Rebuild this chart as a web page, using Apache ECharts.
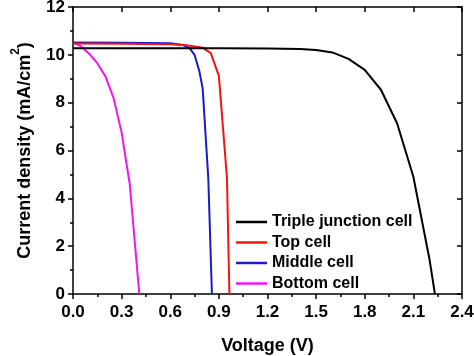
<!DOCTYPE html>
<html>
<head>
<meta charset="utf-8">
<script src="https://cdn.jsdelivr.net/npm/echarts@6/dist/echarts.min.js"></script>
<style>html,body{margin:0;padding:0;background:#fff}#c{width:474px;height:356px}</style>
</head>
<body>
<div id="c"></div>
<script>
// Series names
const seriesNames = ['Triple junction cell', 'Top cell', 'Middle cell', 'Bottom cell'];
// Voltage (V) / current density (mA/cm2)
const voltTriple = [0, 0.3, 0.6, 0.9, 1.2, 1.4, 1.5, 1.6, 1.7, 1.8, 1.9, 2.0, 2.1, 2.2, 2.233];
const currTriple = [10.28, 10.28, 10.28, 10.28, 10.27, 10.24, 10.2, 10.1, 9.83, 9.37, 8.54, 7.13, 4.9, 1.43, 0];
const voltTop = [0, 0.3, 0.6, 0.7, 0.8, 0.85, 0.9, 0.95, 0.965];
const currTop = [10.47, 10.46, 10.44, 10.4, 10.3, 10.07, 9.12, 4.85, 0];
const voltMid = [0, 0.3, 0.6, 0.68, 0.72, 0.75, 0.78, 0.8, 0.835, 0.857];
const currMid = [10.52, 10.51, 10.48, 10.41, 10.27, 10.0, 9.3, 8.6, 4.8, 0];
const voltBot = [0, 0.05, 0.1, 0.15, 0.2, 0.25, 0.3, 0.35, 0.409];
const currBot = [10.53, 10.35, 10.05, 9.65, 9.1, 8.2, 6.75, 4.6, 0];
// Axis ranges / ticks
const xMin = 0, xMax = 2.4, xStep = 0.3;
const yMin = 0, yMax = 12, yStep = 2;

const colors = ['#000000', '#f01414', '#1a1acd', '#f014f0'];
const FONT = '"Liberation Sans", Arial, Helvetica, sans-serif';
const pairs = (xs, ys) => xs.map((x, i) => [x, ys[i]]);
const allData = [pairs(voltTriple, currTriple), pairs(voltTop, currTop), pairs(voltMid, currMid), pairs(voltBot, currBot)];

const axisLine = { show: true, onZero: false, lineStyle: { color: '#000', width: 1.5 } };
const chart = echarts.init(document.getElementById('c'), null, { renderer: 'canvas' });
chart.setOption({
  animation: false,
  backgroundColor: '#fff',
  grid: { left: 73, right: 12, top: 7, bottom: 62, containLabel: false, outerBoundsMode: 'none' },
  legend: {
    orient: 'vertical', left: 231, top: 208,
    itemWidth: 31, itemHeight: 2.5, itemGap: 2.5,
    icon: 'rect',
    textStyle: { fontFamily: FONT, fontWeight: 'bold', fontSize: 16, color: '#000', lineHeight: 18 },
    data: seriesNames
  },
  xAxis: [{
    type: 'value', min: xMin, max: xMax, interval: xStep, position: 'bottom',
    name: 'Voltage (V)', nameLocation: 'middle', nameGap: 43,
    nameTextStyle: { fontFamily: FONT, fontWeight: 'bold', fontSize: 18, color: '#000' },
    axisLine: axisLine,
    axisTick: { show: true, inside: false, length: 5, lineStyle: { color: '#000', width: 1.5 } },
    minorTick: { show: true, splitNumber: 2, length: 3, lineStyle: { color: '#000', width: 1.5 } },
    axisLabel: { margin: 10, fontFamily: FONT, fontWeight: 'bold', fontSize: 17, color: '#000', formatter: v => v.toFixed(1) },
    splitLine: { show: false }
  }, {
    type: 'value', min: xMin, max: xMax, interval: xStep, position: 'top',
    axisLine: axisLine,
    axisTick: { show: true, inside: true, length: 5, lineStyle: { color: '#000', width: 1.5 } },
    minorTick: { show: false },
    axisLabel: { show: false },
    splitLine: { show: false }
  }],
  yAxis: [{
    type: 'value', min: yMin, max: yMax, interval: yStep, position: 'left',
    name: '{b|Current density (mA/cm}{s|2}{b|)}', nameLocation: 'middle', nameGap: 39,
    nameTextStyle: {
      rich: {
        b: { fontFamily: FONT, fontWeight: 'bold', fontSize: 18, color: '#000', lineHeight: 24, verticalAlign: 'bottom' },
        s: { fontFamily: FONT, fontWeight: 'bold', fontSize: 12, color: '#000', lineHeight: 12, verticalAlign: 'top' }
      }
    },
    axisLine: axisLine,
    axisTick: { show: true, inside: false, length: 5, lineStyle: { color: '#000', width: 1.5 } },
    minorTick: { show: true, splitNumber: 2, length: 3, lineStyle: { color: '#000', width: 1.5 } },
    axisLabel: { margin: 8, fontFamily: FONT, fontWeight: 'bold', fontSize: 17, color: '#000' },
    splitLine: { show: false }
  }, {
    type: 'value', min: yMin, max: yMax, interval: yStep, position: 'right',
    axisLine: axisLine,
    axisTick: { show: true, inside: true, length: 5, lineStyle: { color: '#000', width: 1.5 } },
    minorTick: { show: false },
    axisLabel: { show: false },
    splitLine: { show: false }
  }],
  series: seriesNames.map((n, i) => ({
    name: n, type: 'line', xAxisIndex: 0, yAxisIndex: 0,
    data: allData[i], showSymbol: false, symbol: 'none', smooth: false,
    color: colors[i],
    lineStyle: { color: colors[i], width: 2 },
    z: 10 - i
  }))
});
</script>
</body>
</html>
